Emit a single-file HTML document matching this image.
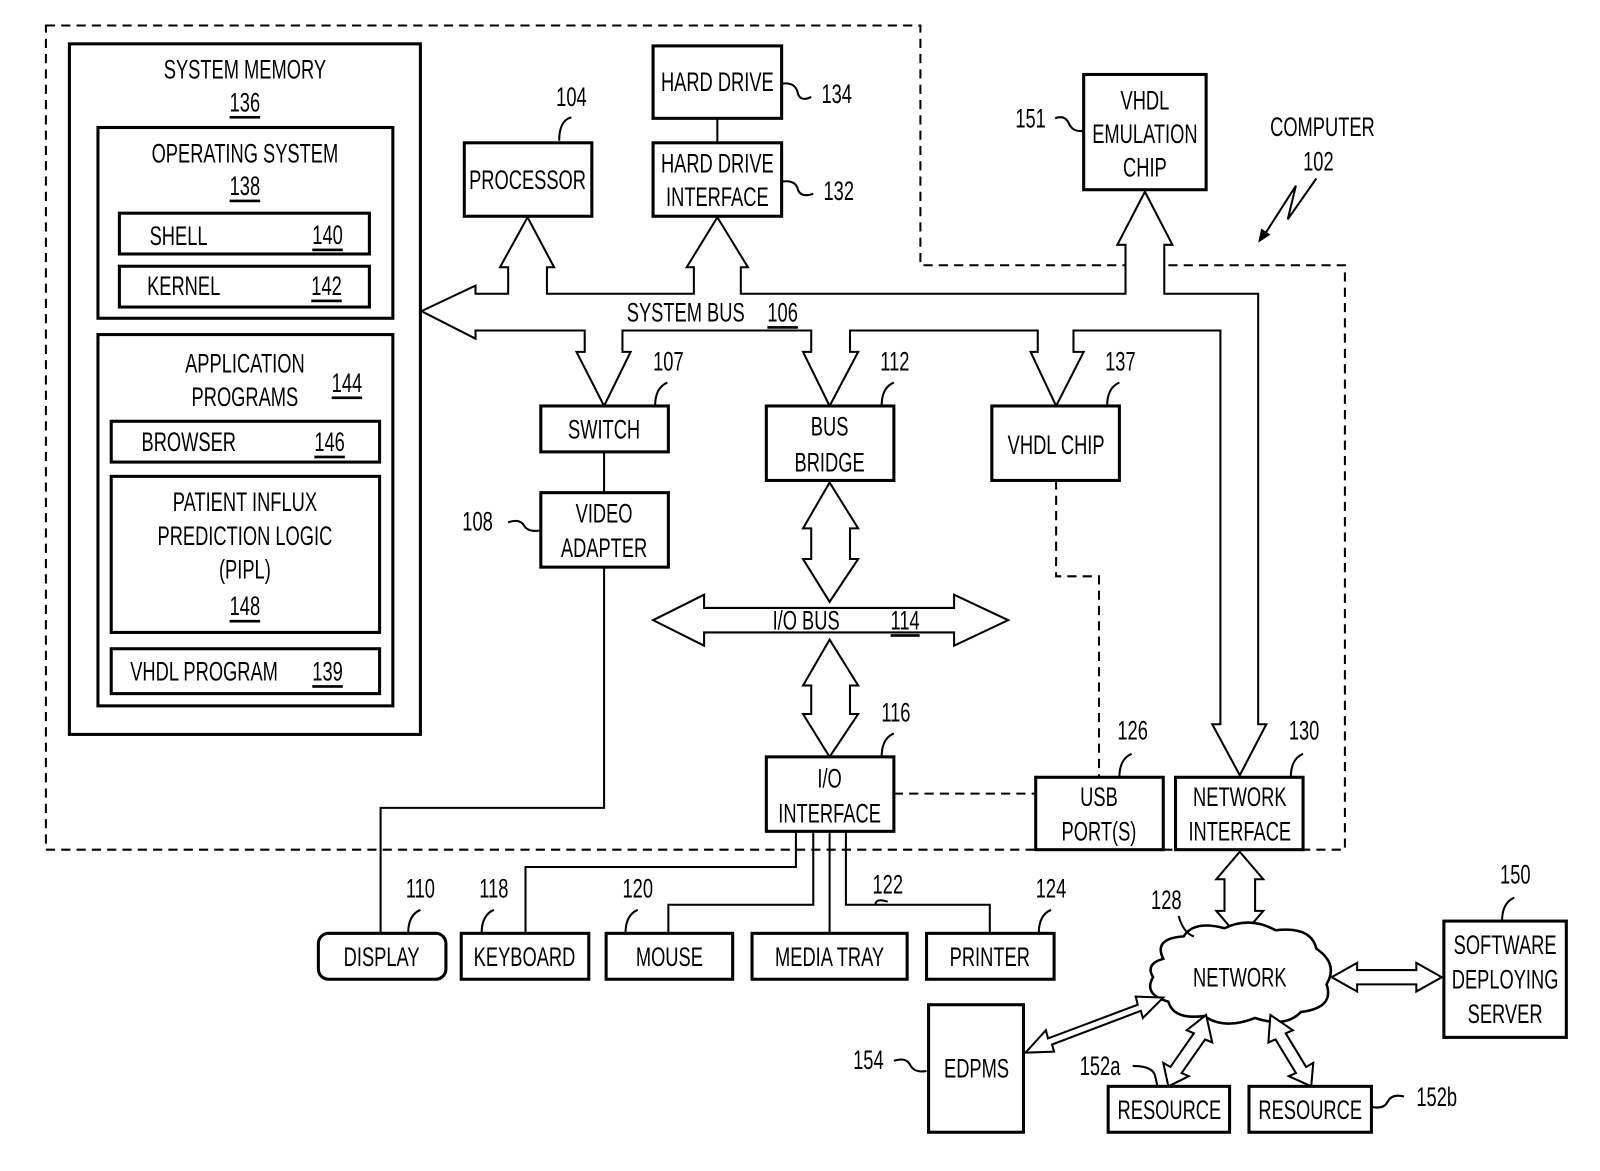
<!DOCTYPE html>
<html><head><meta charset="utf-8"><style>
html,body{margin:0;padding:0;background:#fff;}
svg{display:block;}
text{font-family:"Liberation Sans",sans-serif;font-size:26px;fill:#000;text-anchor:middle;dominant-baseline:central;transform-box:fill-box;transform-origin:center;transform:scaleX(0.69);}
.b{fill:#fff;stroke:#000;stroke-width:3;}
.l{fill:none;stroke:#000;stroke-width:2;}
.d{fill:none;stroke:#000;stroke-width:2;stroke-dasharray:9,6;}
.a{fill:#fff;stroke:#000;stroke-width:2;stroke-linejoin:miter;}
.u{text-decoration:underline;}
</style></head><body>
<svg width="1600" height="1171" viewBox="0 0 1568 1148" preserveAspectRatio="none" xmlns="http://www.w3.org/2000/svg">
<path class="d" d="M45,25 H902 V260 H1318 V833 H45 Z"/>

<rect class="b" x="68" y="43" width="344" height="677"/>
<text x="240" y="68">SYSTEM MEMORY</text><text x="240" y="100" class="u">136</text>
<rect class="b" x="96" y="125" width="289" height="187"/>
<text x="240" y="150">OPERATING SYSTEM</text><text x="240" y="182" class="u">138</text>
<rect class="b" x="117" y="209" width="245" height="40"/>
<text x="175" y="231">SHELL</text><text x="321" y="230" class="u">140</text>
<rect class="b" x="117" y="261" width="245" height="40"/>
<text x="180" y="280">KERNEL</text><text x="320" y="280" class="u">142</text>
<rect class="b" x="96" y="328" width="289" height="364"/>
<text x="240" y="356">APPLICATION</text><text x="240" y="389">PROGRAMS</text><text x="340" y="375" class="u">144</text>
<rect class="b" x="109" y="413" width="263" height="40"/>
<text x="185" y="433">BROWSER</text><text x="323" y="433" class="u">146</text>
<rect class="b" x="109" y="467" width="263" height="153"/>
<text x="240" y="492">PATIENT INFLUX</text><text x="240" y="525">PREDICTION LOGIC</text><text x="240" y="558">(PIPL)</text><text x="240" y="594" class="u">148</text>
<rect class="b" x="109" y="636" width="263" height="44"/>
<text x="200" y="658">VHDL PROGRAM</text><text x="321" y="658" class="u">139</text>

<rect class="b" x="455" y="140" width="125" height="72"/><text x="517" y="176">PROCESSOR</text>
<text x="560" y="95">104</text><path class="l" d="M548,138 Q548,118 560,115"/>
<rect class="b" x="640" y="45" width="126" height="71"/><text x="703" y="80">HARD DRIVE</text>
<text x="820" y="92">134</text><path class="l" d="M766,82 Q780,80 782,92 Q785,100 795,95"/>
<line class="l" x1="703" y1="116" x2="703" y2="140"/>
<rect class="b" x="640" y="140" width="126" height="72"/><text x="703" y="160">HARD DRIVE</text><text x="703" y="193">INTERFACE</text>
<text x="822" y="187">132</text><path class="l" d="M766,178 Q780,176 782,186 Q785,194 797,190"/>
<rect class="b" x="1062" y="73" width="120" height="113"/><text x="1122" y="98">VHDL</text><text x="1122" y="131">EMULATION</text><text x="1122" y="164">CHIP</text>
<text x="1010" y="116">151</text><path class="l" d="M1034,116 Q1044,112 1048,122 Q1052,130 1062,128"/>
<text x="1296" y="124">COMPUTER</text><text x="1292" y="158">102</text>
<path class="l" d="M1290,175 L1262,215 L1270,182 L1238,232"/><path d="M1233,238 L1236,224 L1245,230 Z" fill="#000"/>

<path class="a" d="M413,305 L466,280 L466,288 L498,288 L498,262 L490,262 L517,213 L543,262 L536,262 L536,288 L680,288 L680,262 L673,262 L703,213 L733,262 L726,262 L726,288 L1103,288 L1103,240 L1095,240 L1122,188 L1149,240 L1141,240 L1141,288 L1233,288 L1233,710 L1241,710 L1215,760 L1188,710 L1196,710 L1196,324 L1052,324 L1052,345 L1062,345 L1035,398 L1010,345 L1017,345 L1017,324 L833,324 L833,345 L841,345 L813,398 L787,345 L795,345 L795,324 L610,324 L610,345 L618,345 L592,398 L565,345 L573,345 L573,324 L466,324 L466,332 Z"/>
<rect x="612" y="292" width="182" height="28" fill="#fff"/>
<text x="672" y="306">SYSTEM BUS</text><text x="767" y="306" class="u">106</text>

<rect class="b" x="530" y="398" width="125" height="45"/><text x="592" y="421">SWITCH</text>
<text x="655" y="354">107</text><path class="l" d="M642,398 Q642,380 654,375"/>
<rect class="b" x="751" y="398" width="125" height="73"/><text x="813" y="418">BUS</text><text x="813" y="453">BRIDGE</text>
<text x="877" y="354">112</text><path class="l" d="M864,398 Q864,380 876,375"/>
<rect class="b" x="972" y="398" width="125" height="73"/><text x="1035" y="436">VHDL CHIP</text>
<text x="1098" y="354">137</text><path class="l" d="M1085,398 Q1085,380 1097,375"/>
<line class="l" x1="592" y1="443" x2="592" y2="483"/>
<rect class="b" x="530" y="483" width="125" height="73"/><text x="592" y="503">VIDEO</text><text x="592" y="537">ADAPTER</text>
<text x="468" y="511">108</text><path class="l" d="M498,512 Q510,508 514,516 Q518,522 530,520"/>
<path class="l" d="M592,556 V792 H373 V915"/>

<path class="a" d="M640,608 L690,583 L690,596 L935,596 L935,583 L988,608 L935,633 L935,620 L690,620 L690,633 Z"/>
<text x="790" y="608">I/O BUS</text><text x="887" y="608" class="u">114</text>
<path class="a" d="M813,473 L841,518 L833,518 L833,548 L841,548 L813,590 L787,548 L795,548 L795,518 L787,518 Z"/>
<path class="a" d="M813,627 L841,672 L833,672 L833,700 L841,700 L813,742 L787,700 L795,700 L795,672 L787,672 Z"/>
<rect class="b" x="751" y="742" width="125" height="73"/><text x="813" y="763">I/O</text><text x="813" y="797">INTERFACE</text>
<text x="878" y="698">116</text><path class="l" d="M864,742 Q864,724 876,719"/>
<path class="d" d="M876,778 H1015"/>
<path class="d" d="M1035,471 V565 H1077 V762"/>
<rect class="b" x="1015" y="762" width="125" height="71"/><text x="1077" y="781">USB</text><text x="1077" y="815">PORT(S)</text>
<text x="1110" y="716">126</text><path class="l" d="M1097,762 Q1097,744 1109,739"/>
<rect class="b" x="1152" y="762" width="125" height="71"/><text x="1215" y="781">NETWORK</text><text x="1215" y="815">INTERFACE</text>
<text x="1278" y="716">130</text><path class="l" d="M1265,762 Q1265,744 1277,739"/>

<path class="l" d="M780,815 V850 H515 V915"/>
<path class="l" d="M797,815 V887 H655 V915"/>
<path class="l" d="M813,815 V915"/>
<path class="l" d="M829,815 V887 H970 V915"/>
<rect class="b" x="312" y="915" width="125" height="45" rx="10"/><text x="374" y="938">DISPLAY</text>
<text x="412" y="871">110</text><path class="l" d="M400,915 Q400,897 412,892"/>
<rect class="b" x="452" y="915" width="125" height="45"/><text x="514" y="938">KEYBOARD</text>
<text x="484" y="871">118</text><path class="l" d="M472,915 Q472,897 484,892"/>
<rect class="b" x="594" y="915" width="124" height="45"/><text x="656" y="938">MOUSE</text>
<text x="625" y="871">120</text><path class="l" d="M613,915 Q613,897 625,892"/>
<rect class="b" x="737" y="915" width="152" height="45"/><text x="813" y="938">MEDIA TRAY</text>
<text x="870" y="867">122</text><path class="l" d="M858,887 Q858,880 870,884"/>
<rect class="b" x="908" y="915" width="125" height="45"/><text x="970" y="938">PRINTER</text>
<text x="1030" y="871">124</text><path class="l" d="M1018,915 Q1018,897 1030,892"/>

<path class="a" d="M1215,835 L1238,862 L1230,862 L1230,893 L1238,893 L1215,920 L1192,893 L1200,893 L1200,862 L1192,862 Z"/>
<path class="b" d="M1140,940 Q1130,920 1160,918 Q1170,902 1200,910 Q1225,898 1250,912 Q1285,908 1290,930 Q1312,945 1300,965 Q1308,988 1275,992 Q1260,1008 1230,998 Q1200,1010 1180,996 Q1150,1000 1145,982 Q1120,975 1130,958 Q1122,945 1140,940 Z" style="stroke-width:2.5"/>
<text x="1215" y="958">NETWORK</text>
<text x="1143" y="882">128</text><path class="l" d="M1155,898 Q1160,915 1170,918"/>
<path class="a" d="M1305,958 L1330,944 L1330,951 L1388,951 L1388,944 L1413,958 L1388,972 L1388,965 L1330,965 L1330,972 Z"/>
<rect class="b" x="1415" y="903" width="120" height="114"/><text x="1475" y="926">SOFTWARE</text><text x="1475" y="960">DEPLOYING</text><text x="1475" y="994">SERVER</text>
<text x="1485" y="857">150</text><path class="l" d="M1472,903 Q1472,885 1484,880"/>
<path class="a" d="M1005,1032 L1025,1010 L1027,1018 L1115,985 L1113,977 L1140,978 L1120,998 L1118,991 L1031,1024 L1033,1031 Z"/>
<rect class="b" x="910" y="985" width="93" height="125"/><text x="957" y="1047">EDPMS</text>
<text x="851" y="1039">154</text><path class="l" d="M876,1040 Q888,1036 892,1044 Q896,1052 908,1050"/>
<path class="a" d="M1182,995 L1188,1022 L1181,1019 L1158,1052 L1165,1055 L1145,1065 L1140,1042 L1147,1046 L1170,1013 L1163,1010 Z"/>
<path class="a" d="M1245,995 L1267,1010 L1260,1013 L1280,1046 L1287,1042 L1285,1065 L1263,1055 L1270,1052 L1250,1019 L1243,1022 Z"/>
<rect class="b" x="1086" y="1065" width="119" height="45"/><text x="1146" y="1088">RESOURCE</text>
<text x="1078" y="1045">152a</text><path class="l" d="M1110,1045 Q1130,1045 1132,1055 Q1134,1062 1134,1065"/>
<rect class="b" x="1224" y="1065" width="120" height="45"/><text x="1284" y="1088">RESOURCE</text>
<text x="1408" y="1075">152b</text><path class="l" d="M1344,1085 Q1356,1088 1360,1080 Q1364,1072 1376,1075"/>
</svg>
</body></html>
